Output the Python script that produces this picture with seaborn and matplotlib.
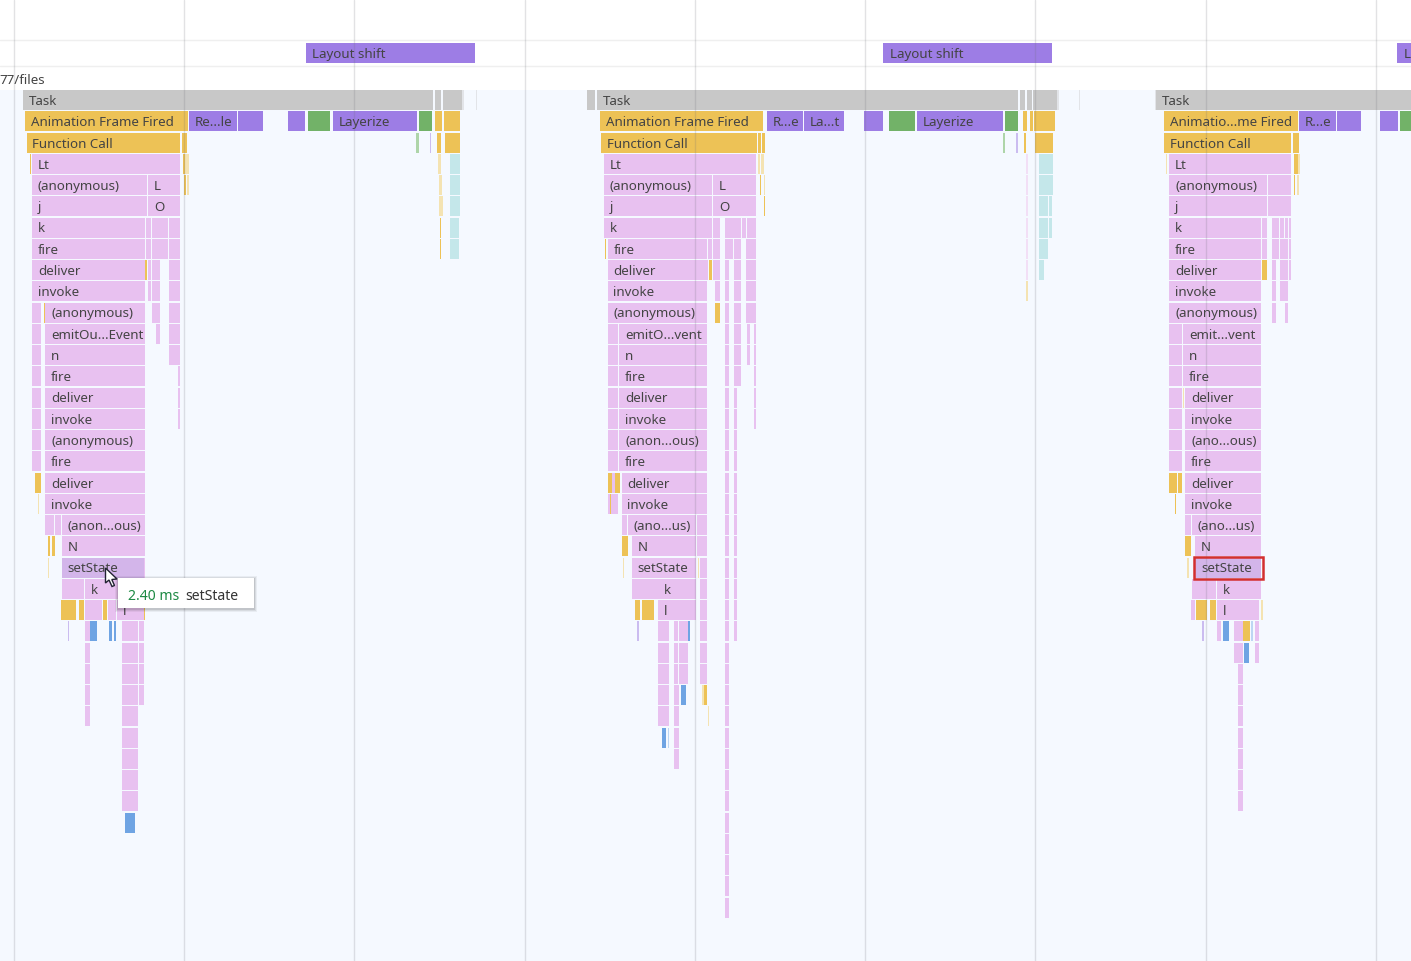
import matplotlib.pyplot as plt
from matplotlib.patches import Polygon, Rectangle
import pandas as pd
import seaborn as sns

# timeline unit is one screen pixel (about 33.75 px per ms)
# unlabelled spans: (first depth, last depth, start, end)
task_spans = [
    (0, 0, 23, 433), (0, 0, 435, 441), (0, 0, 443, 462),
    (0, 0, 587, 595), (0, 0, 597, 1018), (0, 0, 1020, 1025), (0, 0, 1027, 1032), (0, 0, 1033, 1057),
    (0, 0, 1156, 1411),
]
task_faint = [
    (0, 0, 462, 463.5), (0, 0, 476, 477),
    (0, 0, 1057, 1059), (0, 0, 1079, 1080), (0, 0, 1155, 1156),
]
yellow_spans = [
    (1, 1, 435, 442), (1, 1, 444, 460), (2, 2, 181.5, 187), (2, 2, 436.5, 441), (2, 2, 445, 460),
    (3, 3, 30, 31), (3, 3, 183, 185), (4, 4, 184, 186), (6, 6, 439.5, 440.5), (7, 7, 440, 441),
    (8, 8, 145, 147), (10, 10, 44, 45), (18, 18, 35, 41), (21, 21, 48, 50), (21, 21, 52, 55),
    (24, 24, 61, 76), (24, 24, 79, 84), (24, 24, 103, 107), (24, 24, 144, 145),
    (1, 1, 1022.5, 1027), (1, 1, 1030, 1033), (1, 1, 1034, 1055), (2, 2, 757.5, 761), (2, 2, 762, 765),
    (2, 2, 1024, 1025.5), (2, 2, 1035, 1053), (4, 4, 760, 761), (5, 5, 764, 765), (7, 7, 605, 606),
    (8, 8, 709, 712), (10, 10, 715, 720), (18, 18, 608, 612), (18, 18, 615, 620), (19, 19, 610, 611),
    (21, 21, 621.5, 628), (24, 24, 635, 640), (24, 24, 641.5, 654), (28, 28, 703.5, 707),
    (2, 2, 1293, 1298.5), (3, 3, 1294, 1298), (4, 4, 1294, 1295), (8, 8, 1262, 1267),
    (10, 10, 1165, 1165), (18, 18, 1169, 1177), (18, 18, 1178, 1182), (19, 19, 1175, 1176),
    (21, 21, 1185, 1191), (24, 24, 1195.5, 1207), (24, 24, 1210, 1216), (25, 25, 1243, 1250),
]
pale_yellow_spans = [
    (3, 3, 185, 189), (4, 4, 187, 189), (3, 3, 438, 441), (4, 4, 439, 441.5), (5, 5, 439, 442.5),
    (19, 19, 37.5, 39), (22, 22, 47.5, 49),
    (3, 3, 758, 760), (3, 3, 761, 764), (4, 4, 764, 765), (9, 9, 1026, 1027.5),
    (22, 22, 622.5, 624), (22, 22, 697.5, 699), (28, 28, 702, 703.5), (29, 29, 707.5, 709),
    (3, 3, 1166, 1167), (3, 3, 1298, 1300), (4, 4, 1297, 1299), (14, 14, 1183, 1184),
    (22, 22, 1187, 1189), (24, 24, 1261, 1262.5),
]
purple_spans = [
    (1, 1, 238, 263), (1, 1, 288, 305), (1, 1, 864, 883), (1, 1, 1337, 1361), (1, 1, 1380, 1398),
]
pale_purple_spans = [
    (2, 2, 430, 431), (2, 2, 1016, 1017.5), (25, 25, 67.5, 69), (25, 25, 637, 639), (25, 25, 1202, 1204),
]
green_spans = [
    (1, 1, 307.5, 330), (1, 1, 419, 432), (1, 1, 889, 915), (1, 1, 1005, 1017.5), (1, 1, 1400, 1411),
]
pale_green_spans = [(2, 2, 416, 419), (2, 2, 1003, 1005)]
teal_spans = [
    (3, 5, 450, 460), (6, 7, 450, 459),
    (3, 4, 1039, 1053), (5, 6, 1039, 1048), (5, 6, 1049, 1052), (7, 7, 1039, 1048), (8, 8, 1039, 1044),
]
blue_spans = [
    (25, 25, 90, 97), (25, 25, 109, 112), (25, 25, 114, 116), (34, 34, 125, 135),
    (25, 25, 688, 690), (28, 28, 681, 686), (30, 30, 661.5, 666),
    (25, 25, 1222.5, 1229), (26, 26, 1244, 1248.5),
]
pale_blue_spans = [(30, 30, 667.5, 669), (25, 25, 1251, 1253)]
pale_pink_spans = [(3, 8, 1026, 1027.5)]
pink_spans = [
    # first stack
    (6, 7, 145.5, 151), (6, 7, 152, 168), (6, 12, 169, 178), (6, 15, 178, 180),
    (8, 9, 148, 151), (8, 9, 152, 160), (10, 10, 151.5, 156), (10, 11, 156, 160),
    (10, 17, 32, 41), (20, 20, 45, 54), (20, 20, 55, 61), (20, 22, 144, 145), (23, 23, 61.5, 84),
    (24, 24, 85, 102), (24, 24, 108, 116), (25, 29, 85, 90), (25, 33, 121.5, 138), (25, 28, 139, 143.5),
    # second stack
    (6, 7, 708, 712), (6, 8, 713, 719.5), (9, 9, 715, 719.5), (6, 6, 725, 741), (6, 6, 742, 746),
    (6, 6, 747, 753), (6, 10, 753, 756), (7, 7, 725, 733), (7, 7, 734, 741), (7, 10, 746, 753),
    (8, 31, 725, 729), (8, 12, 734, 741), (13, 13, 734, 737.5), (13, 13, 738, 741), (14, 25, 734, 737),
    (11, 12, 746.5, 750), (11, 15, 754, 756), (11, 19, 607.5, 617.5),
    (20, 20, 621.5, 627), (20, 20, 697, 707), (21, 21, 697, 700), (21, 27, 700, 707), (22, 25, 700, 707),
    (23, 23, 631.5, 653.5), (23, 23, 654, 658), (25, 29, 657.5, 669), (25, 27, 674, 678),
    (28, 31, 674, 679), (25, 27, 678.5, 687.5), (32, 38, 725, 729),
    # third stack
    (4, 5, 1268, 1291), (6, 7, 1261.5, 1267), (6, 7, 1271.7, 1279), (6, 6, 1280, 1284), (6, 6, 1285, 1288),
    (6, 8, 1289, 1291), (7, 7, 1280, 1288), (8, 10, 1271.7, 1276), (8, 9, 1280, 1288), (10, 10, 1285, 1288),
    (11, 17, 1169, 1182), (20, 20, 1185, 1191), (23, 23, 1191.5, 1216), (24, 24, 1191, 1195),
    (25, 25, 1216.5, 1221), (25, 26, 1234, 1237.5), (25, 33, 1238, 1242.5), (25, 26, 1255, 1258.5),
]

# labelled spans: (depth, start, end, label)
frames_yellow = [
    (1, 25, 188, 'Animation Frame Fired'), (2, 26.5, 180, 'Function Call'),
    (1, 600, 763, 'Animation Frame Fired'), (2, 601, 757, 'Function Call'),
    (1, 1164, 1298, 'Animatio...me Fired'), (2, 1164, 1291, 'Function Call'),
]
frames_purple = [
    (1, 189, 237, 'Re...le'), (1, 333, 417, 'Layerize'),
    (1, 766.5, 803, 'R...e'), (1, 804, 843.5, 'La...t'), (1, 916.5, 1003, 'Layerize'),
    (1, 1299, 1336, 'R...e'),
]
frames_pink = [
    (3, 32, 180, 'Lt'), (4, 32, 147, '(anonymous)'), (4, 148, 180, 'L'), (5, 32, 147, 'j'), (5, 148, 180, 'O'),
    (6, 32, 145, 'k'), (7, 32, 145, 'fire'), (8, 32, 145, 'deliver'), (9, 32, 145, 'invoke'),
    (10, 45, 145, '(anonymous)'), (11, 45, 145, 'emitOu...Event'), (12, 45, 145, 'n'), (13, 45, 145, 'fire'),
    (14, 45, 145, 'deliver'), (15, 45, 145, 'invoke'), (16, 45, 145, '(anonymous)'), (17, 45, 145, 'fire'),
    (18, 45, 145, 'deliver'), (19, 45, 145, 'invoke'), (20, 61.5, 144, '(anon...ous)'), (21, 61.5, 144, 'N'),
    (23, 85, 145, 'k'), (24, 117, 144, 'l'),
    (3, 604, 756, 'Lt'), (4, 604, 712, '(anonymous)'), (4, 713, 756, 'L'), (5, 604, 712, 'j'), (5, 713, 756, 'O'),
    (6, 604, 707.5, 'k'), (7, 607.5, 707, 'fire'), (8, 607.5, 708, 'deliver'), (9, 607.5, 707, 'invoke'),
    (10, 607.5, 707, '(anonymous)'), (11, 619, 707, 'emitO...vent'), (12, 619, 707, 'n'), (13, 619, 707, 'fire'),
    (14, 619, 707, 'deliver'), (15, 619, 707, 'invoke'), (16, 619, 707, '(anon...ous)'), (17, 619, 707, 'fire'),
    (18, 621.5, 707, 'deliver'), (19, 621.5, 707, 'invoke'), (20, 628, 696, '(ano...us)'), (21, 631.5, 696, 'N'),
    (22, 631.5, 696, 'setState'), (23, 658, 696, 'k'), (24, 657.5, 696, 'l'),
    (3, 1169, 1291, 'Lt'), (4, 1169, 1267, '(anonymous)'), (5, 1169, 1267, 'j'), (6, 1169, 1261, 'k'),
    (7, 1169, 1261, 'fire'), (8, 1169, 1261, 'deliver'), (9, 1169, 1261, 'invoke'), (10, 1169, 1261, '(anonymous)'),
    (11, 1183, 1261, 'emit...vent'), (12, 1183, 1261, 'n'), (13, 1183, 1261, 'fire'), (14, 1185, 1261, 'deliver'),
    (15, 1185, 1261, 'invoke'), (16, 1185, 1261, '(ano...ous)'), (17, 1185, 1261, 'fire'), (18, 1185, 1261, 'deliver'),
    (19, 1185, 1261, 'invoke'), (20, 1192, 1261, '(ano...us)'), (21, 1195, 1261, 'N'), (23, 1217, 1261, 'k'),
    (24, 1217, 1258.5, 'l'),
]
frames_hover = [(22, 61.5, 143.5, 'setState'), (22, 1195, 1261, 'setState')]
frames_grey = [(0, 23, 433, 'Task'), (0, 597, 1018, 'Task'), (0, 1156, 1411, 'Task')]

layout_shifts = [(305.5, 475), (883, 1052), (1397, 1411)]
layout_shift_labels = ['Layout shift', 'Layout shift', 'L']
grid_times = [13.5, 183.5, 353.5, 524.5, 694.5, 864.5, 1034.5, 1205.5, 1375.5]
tooltip_ms = '2.40 ms'
tooltip_name = 'setState'
url_tail = '77/files'

colors = {
    'task': '#c8c8c8', 'task_faint': '#e2e4e8',
    'yellow': '#edc256', 'pale_yellow': '#f4e3b2',
    'purple': '#9d7de5', 'pale_purple': '#cbbcf0',
    'green': '#72b268', 'pale_green': '#aed5a9',
    'teal': '#c4e7ea', 'blue': '#6fa4e3', 'pale_blue': '#bdd6f3',
    'pink': '#e8c1f0', 'pale_pink': '#f2dff6', 'hover': '#d3b5ea',
}
palette = sns.color_palette(list(colors.values()))
palette = dict(zip(colors.keys(), palette))

plain = {
    'task': task_spans, 'task_faint': task_faint, 'yellow': yellow_spans, 'pale_yellow': pale_yellow_spans,
    'purple': purple_spans, 'pale_purple': pale_purple_spans, 'green': green_spans,
    'pale_green': pale_green_spans, 'teal': teal_spans, 'blue': blue_spans, 'pale_blue': pale_blue_spans,
    'pale_pink': pale_pink_spans, 'pink': pink_spans,
}
labelled = {
    'yellow': frames_yellow, 'purple': frames_purple, 'pink': frames_pink,
    'hover': frames_hover, 'task': frames_grey,
}

rows = []
for kind, spans in plain.items():
    for first, last, start, end in spans:
        for depth in range(first, last + 1):
            rows.append((depth, start, end, kind, ''))
for kind, spans in labelled.items():
    for depth, start, end, label in spans:
        rows.append((depth, start, end, kind, label))
bars = pd.DataFrame(rows, columns=['depth', 'start', 'end', 'kind', 'label'])
bars = bars[bars.end > bars.start]

sns.set_style('white')
plt.rcParams['font.family'] = ['Noto Sans', 'DejaVu Sans']

fig = plt.figure(figsize=(14.11, 9.61), dpi=100)
ax = fig.add_axes([0, 0, 1, 1])
ax.set_xlim(0, 1411)
ax.set_ylim(961, 0)
ax.set_axis_off()
fig.patch.set_facecolor('white')

TOP = 90
PITCH = 21.25
HEIGHT = 20
TEXT = '#444444'
FS = 9.6

ax.add_patch(Rectangle((0, TOP), 1411, 961 - TOP, color='#f5f9ff', zorder=0, lw=0))
ax.axhline(39.5, color='#efefef', lw=1, zorder=1)
ax.axhline(65.5, color='#efefef', lw=1, zorder=1)

for kind, group in bars.groupby('kind'):
    tops = TOP + PITCH * group.depth
    ax.barh(tops, group.end - group.start, left=group.start, height=HEIGHT, align='edge',
            color=palette[kind], linewidth=0, zorder=2)

for row in bars[bars.label != ''].itertuples():
    ax.text(row.start + 6, TOP + PITCH * row.depth + HEIGHT / 2, row.label, color=TEXT, fontsize=FS,
            va='center_baseline', ha='left', zorder=3)

for (start, end), label in zip(layout_shifts, layout_shift_labels):
    ax.barh(43, end - start, left=start, height=19.5, align='edge', color=palette['purple'], lw=0, zorder=2)
    ax.text(start + 6.5, 53, label, color=TEXT, fontsize=FS, va='center_baseline', zorder=3, clip_on=True)

ax.text(-1, 79, url_tail, color=TEXT, fontsize=FS, va='center_baseline', zorder=3)

for t in grid_times:
    ax.axvline(t, color='#6e7078', alpha=0.2, lw=1, zorder=4)

# selection box on the third setState
ax.add_patch(Rectangle((1193.5, 557), 69.5, 22, fill=False, edgecolor='#d32f2f', lw=1.8, zorder=5))

# tooltip with a soft shadow
for grow, alpha in [(3, 0.05), (2, 0.07), (1, 0.1)]:
    ax.add_patch(Rectangle((118 - grow, 578 - grow + 1), 136 + 2 * grow, 30 + 2 * grow, color='black',
                           alpha=alpha, lw=0, zorder=6))
ax.add_patch(Rectangle((118, 578), 136, 30, color='white', lw=0, zorder=7))
ax.text(128, 594, tooltip_ms, color='#1e8a44', fontsize=FS + 0.5, va='center_baseline', zorder=8)
ax.text(185, 594, tooltip_name, color='#333333', fontsize=FS + 0.5, va='center_baseline', zorder=8)

# mouse pointer
cursor = [(105.5, 568), (105.5, 583), (109, 580), (112, 586.5), (114.5, 585.5), (111.8, 579.5), (117, 579)]
ax.add_patch(Polygon(cursor, closed=True, facecolor='white', edgecolor='#222233', lw=1, zorder=9))

fig.savefig('out.png', dpi=100, facecolor='white')
